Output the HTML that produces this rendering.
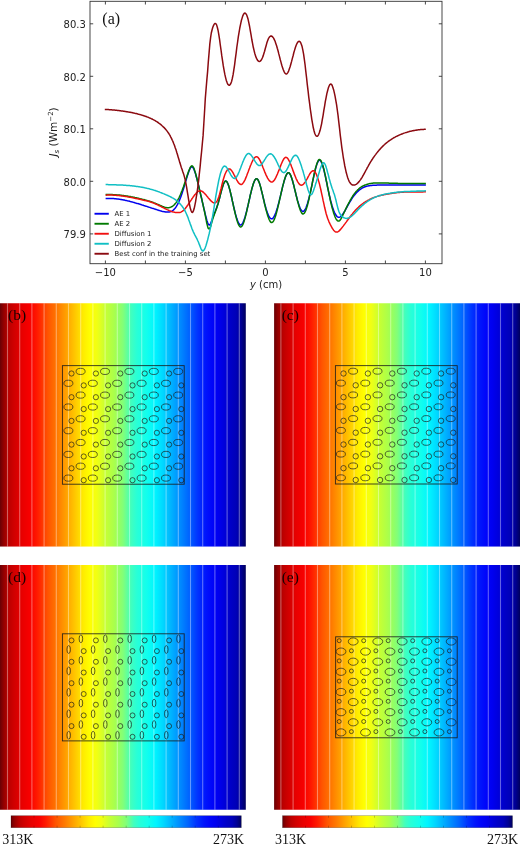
<!DOCTYPE html>
<html><head><meta charset="utf-8"><title>Figure</title>
<style>html,body{margin:0;padding:0;background:#fff}svg{display:block}</style>
</head><body>
<svg width="520" height="845" viewBox="0 0 520 845"><defs><linearGradient id="jet" x1="0" y1="0" x2="1" y2="0"><stop offset="0.0000" stop-color="rgb(105,0,5)"/><stop offset="0.0163" stop-color="rgb(150,0,0)"/><stop offset="0.0366" stop-color="rgb(188,0,0)"/><stop offset="0.0570" stop-color="rgb(208,0,0)"/><stop offset="0.0895" stop-color="rgb(232,0,0)"/><stop offset="0.1221" stop-color="rgb(248,0,0)"/><stop offset="0.1505" stop-color="rgb(255,25,0)"/><stop offset="0.1953" stop-color="rgb(255,85,0)"/><stop offset="0.2319" stop-color="rgb(255,120,0)"/><stop offset="0.2685" stop-color="rgb(255,160,0)"/><stop offset="0.3011" stop-color="rgb(255,195,0)"/><stop offset="0.3377" stop-color="rgb(255,235,0)"/><stop offset="0.3662" stop-color="rgb(255,255,0)"/><stop offset="0.3946" stop-color="rgb(240,255,20)"/><stop offset="0.4272" stop-color="rgb(200,255,50)"/><stop offset="0.4638" stop-color="rgb(170,255,75)"/><stop offset="0.5004" stop-color="rgb(130,255,120)"/><stop offset="0.5330" stop-color="rgb(65,255,190)"/><stop offset="0.5574" stop-color="rgb(40,255,215)"/><stop offset="0.5940" stop-color="rgb(20,255,235)"/><stop offset="0.6306" stop-color="rgb(0,245,255)"/><stop offset="0.6631" stop-color="rgb(0,215,255)"/><stop offset="0.6998" stop-color="rgb(0,175,255)"/><stop offset="0.7323" stop-color="rgb(0,140,255)"/><stop offset="0.7689" stop-color="rgb(0,100,255)"/><stop offset="0.8055" stop-color="rgb(0,50,255)"/><stop offset="0.8381" stop-color="rgb(0,20,252)"/><stop offset="0.8625" stop-color="rgb(0,5,250)"/><stop offset="0.8869" stop-color="rgb(0,0,240)"/><stop offset="0.9357" stop-color="rgb(0,0,200)"/><stop offset="0.9601" stop-color="rgb(0,0,185)"/><stop offset="0.9805" stop-color="rgb(0,0,150)"/><stop offset="0.9927" stop-color="rgb(0,0,115)"/><stop offset="1.0000" stop-color="rgb(0,0,90)"/></linearGradient></defs><rect width="520" height="845" fill="#fff"/><g stroke="#333" stroke-width="0.9" fill="none"><rect x="90.0" y="1.3" width="352.0" height="262.4"/><path d="M105.4,263.7 v-3.2 M105.4,1.3 v3.2"/><path d="M145.4,263.7 v-3.2 M145.4,1.3 v3.2"/><path d="M185.4,263.7 v-3.2 M185.4,1.3 v3.2"/><path d="M225.4,263.7 v-3.2 M225.4,1.3 v3.2"/><path d="M265.4,263.7 v-3.2 M265.4,1.3 v3.2"/><path d="M305.4,263.7 v-3.2 M305.4,1.3 v3.2"/><path d="M345.4,263.7 v-3.2 M345.4,1.3 v3.2"/><path d="M385.4,263.7 v-3.2 M385.4,1.3 v3.2"/><path d="M425.4,263.7 v-3.2 M425.4,1.3 v3.2"/><path d="M90.0,23.8 h3.2 M442.0,23.8 h-3.2"/><path d="M90.0,76.3 h3.2 M442.0,76.3 h-3.2"/><path d="M90.0,128.8 h3.2 M442.0,128.8 h-3.2"/><path d="M90.0,181.3 h3.2 M442.0,181.3 h-3.2"/><path d="M90.0,233.9 h3.2 M442.0,233.9 h-3.2"/></g><g font-family="DejaVu Sans, Liberation Sans, sans-serif" font-size="10" fill="#222"><text x="105.4" y="275.6" text-anchor="middle">−10</text><text x="185.4" y="275.6" text-anchor="middle">−5</text><text x="265.4" y="275.6" text-anchor="middle">0</text><text x="345.4" y="275.6" text-anchor="middle">5</text><text x="425.4" y="275.6" text-anchor="middle">10</text><text x="85.8" y="28.1" text-anchor="end">80.3</text><text x="85.8" y="80.6" text-anchor="end">80.2</text><text x="85.8" y="133.1" text-anchor="end">80.1</text><text x="85.8" y="185.6" text-anchor="end">80.0</text><text x="85.8" y="238.2" text-anchor="end">79.9</text><text x="266" y="287.6" text-anchor="middle"><tspan font-style="italic">y</tspan> (cm)</text><text transform="translate(57.1,131.9) rotate(-90)" text-anchor="middle" font-size="10.5"><tspan font-style="italic">J</tspan><tspan font-style="italic" font-size="7" dy="2">s</tspan><tspan dy="-2"> (Wm</tspan><tspan font-size="7" dy="-4">−2</tspan><tspan dy="4">)</tspan></text></g><g fill="none" stroke-width="1.5" stroke-linejoin="round" stroke-linecap="butt"><path stroke="#0000ee" d="M105.6,198.5 L106.3,198.5 L107.1,198.4 L107.8,198.4 L108.6,198.4 L109.3,198.4 L110.1,198.4 L110.8,198.4 L111.6,198.5 L112.3,198.5 L113.1,198.5 L113.8,198.6 L114.6,198.7 L115.3,198.7 L116.1,198.8 L116.8,198.9 L117.6,199.0 L118.3,199.1 L119.1,199.2 L119.8,199.3 L120.6,199.4 L121.3,199.5 L122.1,199.7 L122.8,199.8 L123.6,200.0 L124.3,200.1 L125.1,200.3 L125.8,200.4 L126.6,200.6 L127.3,200.8 L128.1,200.9 L128.8,201.1 L129.6,201.3 L130.3,201.5 L131.1,201.7 L131.8,201.9 L132.6,202.1 L133.3,202.3 L134.1,202.5 L134.8,202.7 L135.6,202.9 L136.3,203.2 L137.1,203.4 L137.8,203.6 L138.6,203.8 L139.3,204.1 L140.1,204.3 L140.8,204.5 L141.6,204.8 L142.3,205.0 L143.1,205.2 L143.8,205.5 L144.6,205.7 L145.3,206.0 L146.1,206.2 L146.8,206.4 L147.6,206.7 L148.3,206.9 L149.1,207.2 L149.8,207.4 L150.6,207.7 L151.3,207.9 L152.1,208.2 L152.8,208.4 L153.6,208.6 L154.3,208.9 L155.1,209.1 L155.8,209.4 L156.6,209.6 L157.3,209.9 L158.1,210.1 L158.8,210.4 L159.6,210.6 L160.3,210.8 L161.1,211.0 L161.8,211.2 L162.6,211.4 L163.3,211.6 L164.1,211.7 L164.8,211.8 L165.6,212.0 L166.3,212.0 L167.1,212.1 L167.8,212.1 L168.6,212.1 L169.3,212.0 L170.1,211.8 L170.8,211.5 L171.6,211.2 L172.3,210.8 L173.1,210.3 L173.8,209.6 L174.6,208.8 L175.3,208.0 L176.1,206.9 L176.8,205.7 L177.6,204.4 L178.3,202.9 L179.1,201.2 L179.8,199.4 L180.6,197.5 L181.3,195.4 L182.1,193.2 L182.8,190.9 L183.6,188.5 L184.3,186.0 L185.1,183.4 L185.8,180.9 L186.6,178.4 L187.3,176.0 L188.1,173.7 L188.8,171.5 L189.6,169.6 L190.3,168.0 L191.1,167.0 L191.8,166.6 L192.6,167.1 L193.3,168.1 L194.1,169.7 L194.8,171.7 L195.6,174.1 L196.3,176.7 L197.1,179.5 L197.8,182.5 L198.6,185.7 L199.3,188.8 L200.1,192.1 L200.8,195.3 L201.6,198.5 L202.3,201.8 L203.1,205.0 L203.8,208.2 L204.6,211.3 L205.3,214.4 L206.1,217.4 L206.8,220.2 L207.6,222.5 L208.3,224.2 L209.1,225.0 L209.8,224.7 L210.6,223.6 L211.3,221.8 L212.1,219.7 L212.8,217.4 L213.6,215.4 L214.3,213.5 L215.1,211.6 L215.8,209.8 L216.6,207.9 L217.3,205.8 L218.1,203.5 L218.8,200.8 L219.6,198.0 L220.3,195.1 L221.1,192.1 L221.8,189.3 L222.6,186.8 L223.3,184.5 L224.1,182.8 L224.8,181.5 L225.6,181.0 L226.3,181.2 L227.1,182.1 L227.8,183.6 L228.6,185.6 L229.3,188.1 L230.1,190.9 L230.8,194.0 L231.6,197.3 L232.3,200.7 L233.1,204.0 L233.8,207.3 L234.6,210.5 L235.3,213.4 L236.1,216.2 L236.8,218.6 L237.6,220.7 L238.3,222.5 L239.1,223.8 L239.8,224.7 L240.6,225.0 L241.3,224.8 L242.1,224.1 L242.8,222.8 L243.6,221.2 L244.3,219.2 L245.1,216.8 L245.8,214.2 L246.6,211.3 L247.3,208.2 L248.1,205.0 L248.8,201.8 L249.6,198.5 L250.3,195.2 L251.1,192.1 L251.8,189.1 L252.6,186.4 L253.3,184.0 L254.1,181.9 L254.8,180.3 L255.6,179.2 L256.4,178.7 L257.1,178.9 L257.9,179.7 L258.6,181.1 L259.4,183.0 L260.1,185.4 L260.9,188.1 L261.6,191.1 L262.4,194.2 L263.1,197.3 L263.9,200.5 L264.6,203.5 L265.4,206.3 L266.1,209.0 L266.9,211.3 L267.6,213.4 L268.4,215.2 L269.1,216.7 L269.9,217.8 L270.6,218.5 L271.4,218.8 L272.1,218.8 L272.9,218.3 L273.6,217.3 L274.4,216.0 L275.1,214.4 L275.9,212.5 L276.6,210.3 L277.4,207.8 L278.1,205.1 L278.9,202.3 L279.6,199.3 L280.4,196.2 L281.1,193.1 L281.9,190.0 L282.6,186.9 L283.4,183.9 L284.1,181.2 L284.9,178.7 L285.6,176.6 L286.4,174.9 L287.1,173.6 L287.9,172.8 L288.6,172.7 L289.4,173.2 L290.1,174.2 L290.9,175.9 L291.6,177.9 L292.4,180.3 L293.1,183.0 L293.9,185.9 L294.6,188.9 L295.4,192.0 L296.1,195.0 L296.9,197.9 L297.6,200.7 L298.4,203.2 L299.1,205.5 L299.9,207.5 L300.6,209.1 L301.4,210.3 L302.1,211.1 L302.9,211.5 L303.6,211.3 L304.4,210.7 L305.1,209.5 L305.9,208.0 L306.6,206.1 L307.4,203.8 L308.1,201.3 L308.9,198.4 L309.6,195.4 L310.4,192.2 L311.1,188.8 L311.9,185.3 L312.6,181.7 L313.4,178.2 L314.1,174.8 L314.9,171.5 L315.6,168.5 L316.4,165.9 L317.1,163.6 L317.9,161.9 L318.6,160.7 L319.4,160.2 L320.1,160.4 L320.9,161.3 L321.6,162.7 L322.4,164.7 L323.1,167.2 L323.9,170.0 L324.6,173.1 L325.4,176.5 L326.1,180.0 L326.9,183.6 L327.6,187.3 L328.4,190.8 L329.1,194.2 L329.9,197.5 L330.6,200.5 L331.4,203.3 L332.1,205.9 L332.9,208.2 L333.6,210.3 L334.4,212.2 L335.1,213.7 L335.9,215.0 L336.6,216.1 L337.4,216.8 L338.1,217.2 L338.9,217.3 L339.6,217.2 L340.4,216.8 L341.1,216.2 L341.9,215.4 L342.6,214.4 L343.4,213.3 L344.1,212.2 L344.9,210.9 L345.6,209.6 L346.4,208.2 L347.1,206.9 L347.9,205.5 L348.6,204.1 L349.4,202.8 L350.1,201.5 L350.9,200.3 L351.6,199.1 L352.4,197.9 L353.1,196.9 L353.9,195.8 L354.6,194.9 L355.4,194.0 L356.1,193.1 L356.9,192.3 L357.6,191.6 L358.4,190.9 L359.1,190.2 L359.9,189.6 L360.6,189.1 L361.4,188.6 L362.1,188.1 L362.9,187.7 L363.6,187.4 L364.4,187.0 L365.1,186.7 L365.9,186.5 L366.6,186.3 L367.4,186.1 L368.1,185.9 L368.9,185.8 L369.6,185.7 L370.4,185.6 L371.1,185.5 L371.9,185.4 L372.6,185.3 L373.4,185.3 L374.1,185.2 L374.9,185.2 L375.6,185.2 L376.4,185.2 L377.1,185.1 L377.9,185.1 L378.6,185.1 L379.4,185.1 L380.1,185.1 L380.9,185.1 L381.6,185.1 L382.4,185.1 L383.1,185.1 L383.9,185.1 L384.6,185.1 L385.4,185.1 L386.1,185.1 L386.9,185.1 L387.6,185.1 L388.4,185.1 L389.1,185.1 L389.9,185.1 L390.6,185.1 L391.4,185.1 L392.1,185.1 L392.9,185.1 L393.6,185.1 L394.4,185.1 L395.1,185.1 L395.9,185.1 L396.6,185.1 L397.4,185.1 L398.1,185.1 L398.9,185.1 L399.6,185.1 L400.4,185.1 L401.1,185.1 L401.9,185.1 L402.6,185.1 L403.4,185.1 L404.1,185.1 L404.9,185.1 L405.6,185.1 L406.4,185.1 L407.1,185.1 L407.9,185.1 L408.6,185.1 L409.4,185.1 L410.1,185.1 L410.9,185.1 L411.6,185.1 L412.4,185.1 L413.1,185.1 L413.9,185.1 L414.6,185.1 L415.4,185.1 L416.1,185.1 L416.9,185.1 L417.6,185.1 L418.4,185.1 L419.1,185.1 L419.9,185.1 L420.6,185.1 L421.4,185.1 L422.1,185.1 L422.9,185.1 L423.6,185.1 L424.4,185.1 L425.1,185.1 L425.9,185.1"/><path stroke="#007a00" d="M105.6,194.6 L106.3,194.6 L107.1,194.6 L107.8,194.6 L108.6,194.6 L109.3,194.6 L110.1,194.6 L110.8,194.6 L111.6,194.6 L112.3,194.6 L113.1,194.7 L113.8,194.7 L114.6,194.7 L115.3,194.8 L116.1,194.8 L116.8,194.9 L117.6,194.9 L118.3,195.0 L119.1,195.1 L119.8,195.1 L120.6,195.2 L121.3,195.3 L122.1,195.4 L122.8,195.5 L123.6,195.6 L124.3,195.7 L125.1,195.8 L125.8,195.9 L126.6,196.0 L127.3,196.1 L128.1,196.2 L128.8,196.4 L129.6,196.5 L130.3,196.6 L131.1,196.8 L131.8,196.9 L132.6,197.0 L133.3,197.2 L134.1,197.3 L134.8,197.5 L135.6,197.7 L136.3,197.8 L137.1,198.0 L137.8,198.2 L138.6,198.3 L139.3,198.5 L140.1,198.7 L140.8,198.9 L141.6,199.0 L142.3,199.2 L143.1,199.4 L143.8,199.6 L144.6,199.8 L145.3,200.0 L146.1,200.2 L146.8,200.4 L147.6,200.7 L148.3,200.9 L149.1,201.1 L149.8,201.3 L150.6,201.6 L151.3,201.8 L152.1,202.1 L152.8,202.3 L153.6,202.6 L154.3,202.9 L155.1,203.2 L155.8,203.5 L156.6,203.8 L157.3,204.1 L158.1,204.4 L158.8,204.8 L159.6,205.1 L160.3,205.5 L161.1,205.8 L161.8,206.1 L162.6,206.5 L163.3,206.7 L164.1,207.0 L164.8,207.2 L165.6,207.4 L166.3,207.6 L167.1,207.7 L167.8,207.7 L168.6,207.7 L169.3,207.6 L170.1,207.4 L170.8,207.1 L171.6,206.8 L172.3,206.3 L173.1,205.8 L173.8,205.2 L174.6,204.4 L175.3,203.6 L176.1,202.6 L176.8,201.5 L177.6,200.3 L178.3,199.0 L179.1,197.5 L179.8,196.0 L180.6,194.3 L181.3,192.4 L182.1,190.5 L182.8,188.5 L183.6,186.4 L184.3,184.2 L185.1,181.9 L185.8,179.6 L186.6,177.3 L187.3,175.0 L188.1,172.8 L188.8,170.8 L189.6,169.0 L190.3,167.4 L191.1,166.3 L191.8,165.8 L192.6,166.1 L193.3,167.1 L194.1,168.7 L194.8,170.9 L195.6,173.4 L196.3,176.2 L197.1,179.2 L197.8,182.4 L198.6,185.6 L199.3,188.8 L200.1,192.0 L200.8,195.2 L201.6,198.4 L202.3,201.6 L203.1,205.0 L203.8,208.4 L204.6,212.0 L205.3,215.7 L206.1,219.6 L206.8,223.3 L207.6,226.4 L208.3,228.4 L209.1,229.0 L209.8,228.2 L210.6,226.5 L211.3,224.1 L212.1,221.4 L212.8,218.8 L213.6,216.5 L214.3,214.4 L215.1,212.4 L215.8,210.4 L216.6,208.3 L217.3,206.1 L218.1,203.7 L218.8,200.9 L219.6,198.1 L220.3,195.1 L221.1,192.1 L221.8,189.3 L222.6,186.8 L223.3,184.5 L224.1,182.8 L224.8,181.6 L225.6,181.0 L226.3,181.2 L227.1,182.1 L227.8,183.5 L228.6,185.5 L229.3,188.0 L230.1,190.8 L230.8,193.9 L231.6,197.2 L232.3,200.7 L233.1,204.1 L233.8,207.6 L234.6,211.0 L235.3,214.1 L236.1,217.1 L236.8,219.8 L237.6,222.2 L238.3,224.1 L239.1,225.6 L239.8,226.6 L240.6,227.0 L241.3,226.8 L242.1,226.0 L242.8,224.6 L243.6,222.8 L244.3,220.5 L245.1,217.9 L245.8,215.0 L246.6,211.9 L247.3,208.6 L248.1,205.2 L248.8,201.8 L249.6,198.4 L250.3,195.0 L251.1,191.9 L251.8,188.9 L252.6,186.2 L253.3,183.8 L254.1,181.8 L254.8,180.2 L255.6,179.2 L256.4,178.7 L257.1,178.9 L257.9,179.7 L258.6,181.1 L259.4,183.0 L260.1,185.3 L260.9,188.0 L261.6,191.0 L262.4,194.1 L263.1,197.4 L263.9,200.7 L264.6,204.0 L265.4,207.2 L266.1,210.1 L266.9,212.9 L267.6,215.4 L268.4,217.6 L269.1,219.5 L269.9,221.0 L270.6,222.0 L271.4,222.5 L272.1,222.5 L272.9,221.9 L273.6,220.8 L274.4,219.2 L275.1,217.3 L275.9,214.9 L276.6,212.3 L277.4,209.4 L278.1,206.3 L278.9,203.1 L279.6,199.8 L280.4,196.4 L281.1,193.1 L281.9,189.8 L282.6,186.6 L283.4,183.7 L284.1,180.9 L284.9,178.5 L285.6,176.4 L286.4,174.7 L287.1,173.5 L287.9,172.8 L288.6,172.7 L289.4,173.2 L290.1,174.2 L290.9,175.8 L291.6,177.8 L292.4,180.2 L293.1,182.9 L293.9,185.8 L294.6,188.8 L295.4,192.0 L296.1,195.2 L296.9,198.3 L297.6,201.3 L298.4,204.1 L299.1,206.7 L299.9,209.0 L300.6,211.0 L301.4,212.5 L302.1,213.5 L302.9,214.0 L303.6,213.8 L304.4,213.1 L305.1,211.9 L305.9,210.2 L306.6,208.0 L307.4,205.5 L308.1,202.6 L308.9,199.5 L309.6,196.2 L310.4,192.6 L311.1,189.0 L311.9,185.3 L312.6,181.5 L313.4,177.8 L314.1,174.3 L314.9,171.0 L315.6,167.9 L316.4,165.2 L317.1,163.0 L317.9,161.2 L318.6,160.0 L319.4,159.5 L320.1,159.7 L320.9,160.5 L321.6,162.0 L322.4,164.0 L323.1,166.4 L323.9,169.2 L324.6,172.4 L325.4,175.8 L326.1,179.5 L326.9,183.2 L327.6,187.0 L328.4,190.8 L329.1,194.5 L329.9,198.1 L330.6,201.5 L331.4,204.7 L332.1,207.7 L332.9,210.4 L333.6,212.9 L334.4,215.1 L335.1,217.0 L335.9,218.6 L336.6,219.8 L337.4,220.6 L338.1,221.1 L338.9,221.1 L339.6,220.6 L340.4,219.8 L341.1,218.6 L341.9,217.2 L342.6,215.7 L343.4,214.0 L344.1,212.4 L344.9,210.8 L345.6,209.2 L346.4,207.7 L347.1,206.1 L347.9,204.7 L348.6,203.2 L349.4,201.8 L350.1,200.5 L350.9,199.2 L351.6,197.9 L352.4,196.7 L353.1,195.5 L353.9,194.4 L354.6,193.4 L355.4,192.4 L356.1,191.5 L356.9,190.7 L357.6,189.9 L358.4,189.2 L359.1,188.5 L359.9,187.9 L360.6,187.4 L361.4,186.9 L362.1,186.4 L362.9,186.0 L363.6,185.6 L364.4,185.3 L365.1,185.0 L365.9,184.7 L366.6,184.4 L367.4,184.2 L368.1,184.0 L368.9,183.8 L369.6,183.6 L370.4,183.5 L371.1,183.4 L371.9,183.3 L372.6,183.2 L373.4,183.1 L374.1,183.1 L374.9,183.0 L375.6,183.0 L376.4,183.0 L377.1,183.0 L377.9,183.0 L378.6,183.0 L379.4,183.0 L380.1,183.0 L380.9,183.0 L381.6,183.0 L382.4,183.0 L383.1,183.0 L383.9,183.0 L384.6,183.1 L385.4,183.1 L386.1,183.1 L386.9,183.1 L387.6,183.1 L388.4,183.1 L389.1,183.2 L389.9,183.2 L390.6,183.2 L391.4,183.2 L392.1,183.2 L392.9,183.2 L393.6,183.3 L394.4,183.3 L395.1,183.3 L395.9,183.3 L396.6,183.3 L397.4,183.3 L398.1,183.4 L398.9,183.4 L399.6,183.4 L400.4,183.4 L401.1,183.4 L401.9,183.4 L402.6,183.5 L403.4,183.5 L404.1,183.5 L404.9,183.5 L405.6,183.5 L406.4,183.5 L407.1,183.5 L407.9,183.5 L408.6,183.6 L409.4,183.6 L410.1,183.6 L410.9,183.6 L411.6,183.6 L412.4,183.6 L413.1,183.6 L413.9,183.6 L414.6,183.6 L415.4,183.6 L416.1,183.6 L416.9,183.6 L417.6,183.6 L418.4,183.6 L419.1,183.6 L419.9,183.6 L420.6,183.6 L421.4,183.6 L422.1,183.6 L422.9,183.6 L423.6,183.6 L424.4,183.6 L425.1,183.6 L425.9,183.6"/><path stroke="#f01010" d="M105.6,195.2 L106.3,195.2 L107.1,195.1 L107.8,195.1 L108.6,195.1 L109.3,195.1 L110.1,195.1 L110.8,195.1 L111.6,195.1 L112.3,195.1 L113.1,195.2 L113.8,195.2 L114.6,195.2 L115.3,195.3 L116.1,195.3 L116.8,195.4 L117.6,195.5 L118.3,195.5 L119.1,195.6 L119.8,195.7 L120.6,195.8 L121.3,195.9 L122.1,196.0 L122.8,196.1 L123.6,196.2 L124.3,196.3 L125.1,196.4 L125.8,196.5 L126.6,196.6 L127.3,196.8 L128.1,196.9 L128.8,197.0 L129.6,197.2 L130.3,197.3 L131.1,197.4 L131.8,197.6 L132.6,197.7 L133.3,197.9 L134.1,198.0 L134.8,198.2 L135.6,198.4 L136.3,198.5 L137.1,198.7 L137.8,198.8 L138.6,199.0 L139.3,199.2 L140.1,199.3 L140.8,199.5 L141.6,199.7 L142.3,199.9 L143.1,200.0 L143.8,200.2 L144.6,200.4 L145.3,200.5 L146.1,200.7 L146.8,200.9 L147.6,201.1 L148.3,201.3 L149.1,201.5 L149.8,201.7 L150.6,202.0 L151.3,202.2 L152.1,202.5 L152.8,202.8 L153.6,203.1 L154.3,203.4 L155.1,203.7 L155.8,204.0 L156.6,204.4 L157.3,204.7 L158.1,205.1 L158.8,205.5 L159.6,205.8 L160.3,206.2 L161.1,206.6 L161.8,207.0 L162.6,207.4 L163.3,207.7 L164.1,208.1 L164.8,208.5 L165.6,208.9 L166.3,209.2 L167.1,209.6 L167.8,209.9 L168.6,210.3 L169.3,210.6 L170.1,210.9 L170.8,211.2 L171.6,211.4 L172.3,211.7 L173.1,211.9 L173.8,212.1 L174.6,212.3 L175.3,212.4 L176.1,212.5 L176.8,212.6 L177.6,212.6 L178.3,212.6 L179.1,212.5 L179.8,212.4 L180.6,212.2 L181.3,211.9 L182.1,211.4 L182.8,210.9 L183.6,210.3 L184.3,209.6 L185.1,208.7 L185.8,207.8 L186.6,206.8 L187.3,205.8 L188.1,204.7 L188.8,203.5 L189.6,202.4 L190.3,201.2 L191.1,200.1 L191.8,199.0 L192.6,197.9 L193.3,196.8 L194.1,195.8 L194.8,194.8 L195.6,193.9 L196.3,193.0 L197.1,192.3 L197.8,191.7 L198.6,191.2 L199.3,190.9 L200.1,190.8 L200.8,190.9 L201.6,191.1 L202.3,191.5 L203.1,192.0 L203.8,192.7 L204.6,193.4 L205.3,194.2 L206.1,195.1 L206.8,196.0 L207.6,196.9 L208.3,197.9 L209.1,198.8 L209.8,199.6 L210.6,200.4 L211.3,201.2 L212.1,201.8 L212.8,202.4 L213.6,202.8 L214.3,203.0 L215.1,202.9 L215.8,202.5 L216.6,201.8 L217.3,200.6 L218.1,198.9 L218.8,196.8 L219.6,194.2 L220.3,191.4 L221.1,188.4 L221.8,185.3 L222.6,182.3 L223.3,179.5 L224.1,177.0 L224.8,174.8 L225.6,173.0 L226.3,171.5 L227.1,170.3 L227.8,169.5 L228.6,169.0 L229.3,168.9 L230.1,169.1 L230.8,169.7 L231.6,170.6 L232.3,171.6 L233.1,172.9 L233.8,174.3 L234.6,175.7 L235.3,177.2 L236.1,178.7 L236.8,180.1 L237.6,181.3 L238.3,182.5 L239.1,183.4 L239.8,184.0 L240.6,184.4 L241.3,184.5 L242.1,184.1 L242.8,183.4 L243.6,182.4 L244.3,181.1 L245.1,179.6 L245.8,177.9 L246.6,176.0 L247.3,174.1 L248.1,172.0 L248.8,170.0 L249.6,168.0 L250.3,166.0 L251.1,164.2 L251.8,162.5 L252.6,160.9 L253.3,159.5 L254.1,158.4 L254.8,157.5 L255.6,156.9 L256.4,156.7 L257.1,156.8 L257.9,157.3 L258.6,158.2 L259.4,159.3 L260.1,160.7 L260.9,162.3 L261.6,164.1 L262.4,165.9 L263.1,167.8 L263.9,169.7 L264.6,171.6 L265.4,173.4 L266.1,175.1 L266.9,176.7 L267.6,178.1 L268.4,179.4 L269.1,180.4 L269.9,181.2 L270.6,181.7 L271.4,182.0 L272.1,182.0 L272.9,181.6 L273.6,180.9 L274.4,180.0 L275.1,178.8 L275.9,177.4 L276.6,175.8 L277.4,174.1 L278.1,172.3 L278.9,170.4 L279.6,168.4 L280.4,166.5 L281.1,164.5 L281.9,162.7 L282.6,161.1 L283.4,159.7 L284.1,158.5 L284.9,157.7 L285.6,157.3 L286.4,157.4 L287.1,157.8 L287.9,158.7 L288.6,159.9 L289.4,161.3 L290.1,163.0 L290.9,164.8 L291.6,166.8 L292.4,168.8 L293.1,170.9 L293.9,172.9 L294.6,174.9 L295.4,176.8 L296.1,178.6 L296.9,180.2 L297.6,181.6 L298.4,182.8 L299.1,183.9 L299.9,184.6 L300.6,185.1 L301.4,185.2 L302.1,185.1 L302.9,184.7 L303.6,184.0 L304.4,183.1 L305.1,182.1 L305.9,180.9 L306.6,179.6 L307.4,178.3 L308.1,176.9 L308.9,175.5 L309.6,174.2 L310.4,173.0 L311.1,172.0 L311.9,171.3 L312.6,170.8 L313.4,170.7 L314.1,171.0 L314.9,171.8 L315.6,172.9 L316.4,174.4 L317.1,176.3 L317.9,178.5 L318.6,180.9 L319.4,183.7 L320.1,186.7 L320.9,190.0 L321.6,193.4 L322.4,196.9 L323.1,200.4 L323.9,203.9 L324.6,207.3 L325.4,210.5 L326.1,213.4 L326.9,215.9 L327.6,218.2 L328.4,220.3 L329.1,222.1 L329.9,223.7 L330.6,225.2 L331.4,226.6 L332.1,228.0 L332.9,229.1 L333.6,230.2 L334.4,231.0 L335.1,231.6 L335.9,232.0 L336.6,232.1 L337.4,232.0 L338.1,231.6 L338.9,231.1 L339.6,230.4 L340.4,229.6 L341.1,228.7 L341.9,227.8 L342.6,226.9 L343.4,225.9 L344.1,224.9 L344.9,223.9 L345.6,222.9 L346.4,221.9 L347.1,220.8 L347.9,219.8 L348.6,218.8 L349.4,217.8 L350.1,216.8 L350.9,215.8 L351.6,214.8 L352.4,213.9 L353.1,212.9 L353.9,212.0 L354.6,211.2 L355.4,210.3 L356.1,209.5 L356.9,208.7 L357.6,208.0 L358.4,207.3 L359.1,206.6 L359.9,205.9 L360.6,205.3 L361.4,204.7 L362.1,204.1 L362.9,203.5 L363.6,203.0 L364.4,202.5 L365.1,202.0 L365.9,201.5 L366.6,201.1 L367.4,200.6 L368.1,200.2 L368.9,199.8 L369.6,199.4 L370.4,199.0 L371.1,198.7 L371.9,198.3 L372.6,198.0 L373.4,197.7 L374.1,197.4 L374.9,197.1 L375.6,196.9 L376.4,196.6 L377.1,196.4 L377.9,196.1 L378.6,195.9 L379.4,195.7 L380.1,195.5 L380.9,195.4 L381.6,195.2 L382.4,195.0 L383.1,194.9 L383.9,194.7 L384.6,194.6 L385.4,194.4 L386.1,194.3 L386.9,194.2 L387.6,194.1 L388.4,193.9 L389.1,193.8 L389.9,193.7 L390.6,193.6 L391.4,193.4 L392.1,193.3 L392.9,193.2 L393.6,193.1 L394.4,193.0 L395.1,192.9 L395.9,192.8 L396.6,192.7 L397.4,192.6 L398.1,192.5 L398.9,192.5 L399.6,192.4 L400.4,192.3 L401.1,192.3 L401.9,192.2 L402.6,192.2 L403.4,192.2 L404.1,192.1 L404.9,192.1 L405.6,192.1 L406.4,192.1 L407.1,192.0 L407.9,192.0 L408.6,192.0 L409.4,192.0 L410.1,192.0 L410.9,192.0 L411.6,192.0 L412.4,192.0 L413.1,192.0 L413.9,192.0 L414.6,192.0 L415.4,192.0 L416.1,192.0 L416.9,192.0 L417.6,192.0 L418.4,192.0 L419.1,191.9 L419.9,191.9 L420.6,191.9 L421.4,191.9 L422.1,191.9 L422.9,191.9 L423.6,191.8 L424.4,191.8 L425.1,191.8 L425.9,191.7"/><path stroke="#10bfc4" d="M105.6,184.6 L106.3,184.6 L107.1,184.6 L107.8,184.6 L108.6,184.7 L109.3,184.7 L110.1,184.7 L110.8,184.7 L111.6,184.7 L112.3,184.7 L113.1,184.8 L113.8,184.8 L114.6,184.8 L115.3,184.8 L116.1,184.8 L116.8,184.9 L117.6,184.9 L118.3,184.9 L119.1,184.9 L119.8,185.0 L120.6,185.0 L121.3,185.0 L122.1,185.1 L122.8,185.1 L123.6,185.2 L124.3,185.2 L125.1,185.3 L125.8,185.3 L126.6,185.4 L127.3,185.4 L128.1,185.5 L128.8,185.5 L129.6,185.6 L130.3,185.7 L131.1,185.7 L131.8,185.8 L132.6,185.9 L133.3,186.0 L134.1,186.1 L134.8,186.2 L135.6,186.3 L136.3,186.4 L137.1,186.5 L137.8,186.6 L138.6,186.7 L139.3,186.8 L140.1,186.9 L140.8,187.1 L141.6,187.2 L142.3,187.3 L143.1,187.5 L143.8,187.6 L144.6,187.8 L145.3,187.9 L146.1,188.1 L146.8,188.3 L147.6,188.4 L148.3,188.6 L149.1,188.8 L149.8,189.0 L150.6,189.2 L151.3,189.4 L152.1,189.6 L152.8,189.8 L153.6,190.1 L154.3,190.3 L155.1,190.5 L155.8,190.8 L156.6,191.0 L157.3,191.3 L158.1,191.6 L158.8,191.8 L159.6,192.1 L160.3,192.4 L161.1,192.7 L161.8,193.0 L162.6,193.3 L163.3,193.6 L164.1,193.9 L164.8,194.2 L165.6,194.5 L166.3,194.9 L167.1,195.2 L167.8,195.5 L168.6,195.9 L169.3,196.2 L170.1,196.6 L170.8,197.0 L171.6,197.3 L172.3,197.8 L173.1,198.2 L173.8,198.6 L174.6,199.1 L175.3,199.6 L176.1,200.2 L176.8,200.8 L177.6,201.4 L178.3,202.1 L179.1,202.8 L179.8,203.6 L180.6,204.4 L181.3,205.3 L182.1,206.2 L182.8,207.3 L183.6,208.4 L184.3,209.7 L185.1,211.0 L185.8,212.5 L186.6,214.2 L187.3,215.9 L188.1,217.8 L188.8,219.9 L189.6,222.0 L190.3,224.1 L191.1,226.1 L191.8,228.2 L192.6,230.1 L193.3,231.8 L194.1,233.4 L194.8,234.8 L195.6,236.3 L196.3,237.7 L197.1,239.2 L197.8,240.8 L198.6,242.5 L199.3,244.4 L200.1,246.4 L200.8,248.3 L201.6,249.8 L202.3,250.8 L203.1,251.0 L203.8,250.4 L204.6,249.2 L205.3,247.4 L206.1,245.2 L206.8,242.7 L207.6,240.0 L208.3,237.1 L209.1,234.0 L209.8,230.8 L210.6,227.3 L211.3,223.5 L212.1,219.4 L212.8,215.1 L213.6,210.5 L214.3,205.8 L215.1,201.1 L215.8,196.4 L216.6,192.0 L217.3,187.8 L218.1,183.8 L218.8,180.2 L219.6,176.9 L220.3,174.0 L221.1,171.5 L221.8,169.5 L222.6,167.9 L223.3,166.8 L224.1,166.2 L224.8,166.1 L225.6,166.4 L226.3,167.1 L227.1,168.1 L227.8,169.3 L228.6,170.6 L229.3,172.0 L230.1,173.4 L230.8,174.8 L231.6,176.0 L232.3,177.0 L233.1,177.8 L233.8,178.3 L234.6,178.5 L235.3,178.2 L236.1,177.5 L236.8,176.5 L237.6,175.2 L238.3,173.6 L239.1,171.8 L239.8,169.9 L240.6,168.0 L241.3,166.0 L242.1,164.0 L242.8,162.1 L243.6,160.3 L244.3,158.6 L245.1,157.1 L245.8,155.8 L246.6,154.8 L247.3,154.0 L248.1,153.6 L248.8,153.5 L249.6,153.8 L250.3,154.3 L251.1,155.1 L251.8,156.1 L252.6,157.2 L253.3,158.4 L254.1,159.7 L254.8,160.9 L255.6,162.1 L256.4,163.2 L257.1,164.2 L257.9,164.9 L258.6,165.4 L259.4,165.6 L260.1,165.5 L260.9,165.1 L261.6,164.3 L262.4,163.4 L263.1,162.2 L263.9,161.0 L264.6,159.8 L265.4,158.6 L266.1,157.4 L266.9,156.4 L267.6,155.5 L268.4,154.7 L269.1,154.2 L269.9,153.9 L270.6,153.8 L271.4,154.0 L272.1,154.5 L272.9,155.2 L273.6,156.2 L274.4,157.3 L275.1,158.5 L275.9,159.9 L276.6,161.4 L277.4,163.0 L278.1,164.6 L278.9,166.2 L279.6,167.8 L280.4,169.2 L281.1,170.5 L281.9,171.5 L282.6,172.2 L283.4,172.6 L284.1,172.7 L284.9,172.2 L285.6,171.5 L286.4,170.5 L287.1,169.2 L287.9,167.7 L288.6,166.1 L289.4,164.4 L290.1,162.8 L290.9,161.2 L291.6,159.6 L292.4,158.2 L293.1,157.0 L293.9,156.1 L294.6,155.5 L295.4,155.2 L296.1,155.3 L296.9,155.9 L297.6,156.8 L298.4,158.2 L299.1,159.8 L299.9,161.7 L300.6,163.8 L301.4,166.1 L302.1,168.4 L302.9,170.8 L303.6,173.4 L304.4,176.1 L305.1,178.9 L305.9,181.8 L306.6,184.7 L307.4,187.5 L308.1,190.0 L308.9,192.1 L309.6,193.7 L310.4,194.6 L311.1,194.8 L311.9,194.1 L312.6,192.8 L313.4,191.0 L314.1,188.8 L314.9,186.5 L315.6,184.1 L316.4,181.7 L317.1,179.2 L317.9,176.8 L318.6,174.3 L319.4,171.7 L320.1,169.3 L320.9,167.1 L321.6,165.2 L322.4,163.7 L323.1,162.9 L323.9,162.8 L324.6,163.5 L325.4,165.0 L326.1,167.1 L326.9,169.7 L327.6,172.5 L328.4,175.3 L329.1,178.2 L329.9,180.9 L330.6,183.6 L331.4,186.0 L332.1,188.3 L332.9,190.3 L333.6,192.4 L334.4,194.5 L335.1,197.1 L335.9,200.0 L336.6,203.1 L337.4,206.2 L338.1,209.1 L338.9,211.4 L339.6,213.2 L340.4,214.5 L341.1,215.6 L341.9,216.3 L342.6,217.0 L343.4,217.5 L344.1,217.8 L344.9,218.1 L345.6,218.3 L346.4,218.4 L347.1,218.3 L347.9,218.2 L348.6,217.9 L349.4,217.6 L350.1,217.2 L350.9,216.7 L351.6,216.1 L352.4,215.5 L353.1,214.8 L353.9,214.1 L354.6,213.3 L355.4,212.6 L356.1,211.8 L356.9,210.9 L357.6,210.1 L358.4,209.3 L359.1,208.6 L359.9,207.8 L360.6,207.1 L361.4,206.4 L362.1,205.7 L362.9,205.1 L363.6,204.4 L364.4,203.8 L365.1,203.2 L365.9,202.6 L366.6,202.1 L367.4,201.5 L368.1,201.0 L368.9,200.5 L369.6,200.1 L370.4,199.6 L371.1,199.2 L371.9,198.8 L372.6,198.4 L373.4,198.0 L374.1,197.6 L374.9,197.3 L375.6,197.0 L376.4,196.7 L377.1,196.4 L377.9,196.1 L378.6,195.8 L379.4,195.6 L380.1,195.4 L380.9,195.2 L381.6,195.0 L382.4,194.8 L383.1,194.6 L383.9,194.4 L384.6,194.2 L385.4,194.1 L386.1,193.9 L386.9,193.8 L387.6,193.7 L388.4,193.5 L389.1,193.4 L389.9,193.3 L390.6,193.1 L391.4,193.0 L392.1,192.9 L392.9,192.8 L393.6,192.7 L394.4,192.6 L395.1,192.5 L395.9,192.4 L396.6,192.3 L397.4,192.2 L398.1,192.1 L398.9,192.1 L399.6,192.0 L400.4,191.9 L401.1,191.9 L401.9,191.8 L402.6,191.7 L403.4,191.7 L404.1,191.6 L404.9,191.6 L405.6,191.6 L406.4,191.5 L407.1,191.5 L407.9,191.4 L408.6,191.4 L409.4,191.4 L410.1,191.4 L410.9,191.3 L411.6,191.3 L412.4,191.3 L413.1,191.3 L413.9,191.2 L414.6,191.2 L415.4,191.2 L416.1,191.2 L416.9,191.1 L417.6,191.1 L418.4,191.1 L419.1,191.1 L419.9,191.1 L420.6,191.0 L421.4,191.0 L422.1,191.0 L422.9,190.9 L423.6,190.9 L424.4,190.9 L425.1,190.8 L425.9,190.8"/><path stroke="#8b0a10" d="M104.8,109.4 L105.5,109.4 L106.3,109.5 L107.0,109.5 L107.8,109.6 L108.5,109.6 L109.3,109.7 L110.0,109.7 L110.8,109.8 L111.5,109.8 L112.3,109.9 L113.0,110.0 L113.8,110.0 L114.5,110.1 L115.3,110.2 L116.0,110.2 L116.8,110.3 L117.5,110.4 L118.3,110.5 L119.0,110.6 L119.8,110.7 L120.5,110.8 L121.3,110.9 L122.0,111.0 L122.8,111.1 L123.5,111.2 L124.3,111.3 L125.0,111.4 L125.8,111.5 L126.5,111.7 L127.3,111.8 L128.1,111.9 L128.8,112.1 L129.6,112.2 L130.3,112.3 L131.1,112.5 L131.8,112.6 L132.6,112.8 L133.3,113.0 L134.1,113.1 L134.8,113.3 L135.6,113.5 L136.3,113.6 L137.1,113.8 L137.8,114.0 L138.6,114.2 L139.3,114.4 L140.1,114.6 L140.8,114.8 L141.6,115.0 L142.3,115.3 L143.1,115.5 L143.8,115.7 L144.6,116.0 L145.3,116.2 L146.1,116.5 L146.8,116.8 L147.6,117.1 L148.3,117.3 L149.1,117.7 L149.8,118.0 L150.6,118.3 L151.3,118.7 L152.1,119.0 L152.8,119.4 L153.6,119.8 L154.3,120.2 L155.1,120.6 L155.8,121.1 L156.6,121.5 L157.3,122.0 L158.1,122.5 L158.8,123.1 L159.6,123.6 L160.3,124.2 L161.1,124.8 L161.8,125.5 L162.6,126.2 L163.3,126.9 L164.1,127.6 L164.8,128.4 L165.6,129.2 L166.3,130.1 L167.1,131.1 L167.8,132.1 L168.6,133.2 L169.3,134.4 L170.1,135.7 L170.8,137.1 L171.6,138.6 L172.3,140.2 L173.1,141.9 L173.8,143.8 L174.6,145.8 L175.3,147.9 L176.1,150.1 L176.8,152.5 L177.6,155.0 L178.3,157.6 L179.1,160.1 L179.8,162.6 L180.6,165.1 L181.3,167.4 L182.1,169.6 L182.8,171.7 L183.6,173.9 L184.3,176.4 L185.1,179.4 L185.8,183.0 L186.6,187.2 L187.3,191.7 L188.1,196.3 L188.8,200.8 L189.6,204.8 L190.3,208.3 L191.1,210.8 L191.8,212.3 L192.6,212.4 L193.3,211.2 L194.1,208.8 L194.8,205.6 L195.6,201.6 L196.3,197.2 L197.1,192.3 L197.8,187.0 L198.6,181.0 L199.3,174.2 L200.1,166.8 L200.8,159.1 L201.6,151.5 L202.3,144.0 L203.1,135.4 L203.8,124.0 L204.6,110.8 L205.3,98.5 L206.1,88.8 L206.8,80.4 L207.6,71.6 L208.3,62.0 L209.1,52.6 L209.8,44.2 L210.6,37.7 L211.3,33.0 L212.1,29.7 L212.8,27.3 L213.6,25.4 L214.3,24.0 L215.1,23.4 L215.8,23.7 L216.6,24.9 L217.3,27.2 L218.1,30.5 L218.8,34.7 L219.6,39.6 L220.3,45.0 L221.1,50.5 L221.8,55.9 L222.6,61.1 L223.3,65.9 L224.1,70.3 L224.8,74.2 L225.6,77.6 L226.3,80.4 L227.1,82.6 L227.8,84.2 L228.6,85.1 L229.3,85.3 L230.1,84.7 L230.8,83.5 L231.6,81.4 L232.3,78.5 L233.1,74.7 L233.8,70.1 L234.6,64.8 L235.3,59.1 L236.1,53.3 L236.8,47.5 L237.6,42.0 L238.3,36.9 L239.1,32.2 L239.8,28.0 L240.6,24.2 L241.3,20.8 L242.1,18.1 L242.8,15.8 L243.6,14.2 L244.3,13.3 L245.1,13.1 L245.8,13.6 L246.6,14.8 L247.3,16.7 L248.1,19.3 L248.8,22.6 L249.6,26.5 L250.3,30.7 L251.1,35.2 L251.8,39.5 L252.6,43.6 L253.3,47.3 L254.1,50.6 L254.8,53.5 L255.6,55.9 L256.3,57.9 L257.1,59.5 L257.8,60.6 L258.6,61.3 L259.3,61.5 L260.1,61.3 L260.8,60.6 L261.6,59.5 L262.3,58.0 L263.1,56.1 L263.8,53.8 L264.6,51.2 L265.3,48.5 L266.1,45.7 L266.8,43.1 L267.6,40.8 L268.3,38.9 L269.1,37.5 L269.8,36.6 L270.6,36.1 L271.3,36.0 L272.1,36.4 L272.8,37.1 L273.6,38.1 L274.3,39.6 L275.1,41.3 L275.8,43.4 L276.6,45.7 L277.3,48.3 L278.1,51.0 L278.8,53.9 L279.6,56.9 L280.3,59.8 L281.1,62.6 L281.8,65.3 L282.6,67.7 L283.3,69.8 L284.1,71.6 L284.8,73.0 L285.6,73.8 L286.3,74.0 L287.1,73.6 L287.8,72.6 L288.6,71.1 L289.3,69.1 L290.1,66.8 L290.8,64.2 L291.6,61.4 L292.3,58.6 L293.1,55.7 L293.8,52.8 L294.6,50.1 L295.3,47.7 L296.1,45.5 L296.8,43.8 L297.6,42.4 L298.3,41.6 L299.1,41.3 L299.8,41.6 L300.6,42.5 L301.3,44.2 L302.1,46.6 L302.8,49.9 L303.6,54.1 L304.3,59.2 L305.1,65.0 L305.8,71.4 L306.6,78.0 L307.3,84.6 L308.1,91.1 L308.8,97.3 L309.6,103.3 L310.3,109.0 L311.1,114.4 L311.8,119.3 L312.6,123.8 L313.3,127.8 L314.1,131.0 L314.8,133.5 L315.6,135.1 L316.3,136.1 L317.1,136.3 L317.8,135.8 L318.6,134.6 L319.3,132.8 L320.1,130.3 L320.8,127.3 L321.6,123.8 L322.3,119.7 L323.1,115.3 L323.8,110.7 L324.6,106.1 L325.3,101.7 L326.1,97.6 L326.8,93.9 L327.6,90.8 L328.3,88.1 L329.1,86.0 L329.8,84.6 L330.6,84.0 L331.3,84.2 L332.1,85.3 L332.8,87.2 L333.6,89.7 L334.3,92.7 L335.1,96.3 L335.8,100.3 L336.6,104.9 L337.3,110.0 L338.1,115.8 L338.8,122.2 L339.6,128.8 L340.3,135.4 L341.1,141.6 L341.8,147.3 L342.6,152.6 L343.3,157.5 L344.1,161.9 L344.8,166.0 L345.6,169.6 L346.3,172.8 L347.1,175.6 L347.8,178.0 L348.6,180.0 L349.3,181.6 L350.1,182.8 L350.8,183.8 L351.6,184.5 L352.3,184.9 L353.1,185.1 L353.8,185.1 L354.6,185.0 L355.3,184.7 L356.1,184.3 L356.8,183.8 L357.6,183.2 L358.3,182.4 L359.1,181.6 L359.8,180.6 L360.6,179.6 L361.3,178.5 L362.1,177.3 L362.8,176.0 L363.6,174.7 L364.3,173.3 L365.1,171.9 L365.8,170.5 L366.6,169.1 L367.3,167.7 L368.1,166.3 L368.8,165.0 L369.6,163.7 L370.3,162.4 L371.1,161.2 L371.8,160.0 L372.6,158.8 L373.3,157.7 L374.1,156.6 L374.8,155.6 L375.6,154.6 L376.3,153.6 L377.1,152.6 L377.8,151.7 L378.6,150.8 L379.3,149.9 L380.1,149.1 L380.8,148.2 L381.6,147.4 L382.3,146.7 L383.1,145.9 L383.8,145.2 L384.6,144.5 L385.3,143.8 L386.1,143.2 L386.8,142.6 L387.6,142.0 L388.3,141.4 L389.1,140.8 L389.8,140.3 L390.6,139.8 L391.3,139.3 L392.1,138.8 L392.8,138.4 L393.6,137.9 L394.3,137.5 L395.1,137.1 L395.8,136.7 L396.6,136.3 L397.3,136.0 L398.1,135.6 L398.8,135.3 L399.6,134.9 L400.3,134.6 L401.1,134.3 L401.8,134.0 L402.6,133.7 L403.3,133.4 L404.1,133.1 L404.8,132.9 L405.6,132.6 L406.3,132.4 L407.1,132.2 L407.8,131.9 L408.6,131.7 L409.3,131.5 L410.1,131.3 L410.8,131.2 L411.6,131.0 L412.3,130.8 L413.1,130.7 L413.8,130.5 L414.6,130.4 L415.3,130.3 L416.1,130.2 L416.8,130.0 L417.6,129.9 L418.3,129.8 L419.1,129.8 L419.8,129.7 L420.6,129.6 L421.3,129.5 L422.1,129.5 L422.8,129.4 L423.6,129.4 L424.3,129.3 L425.1,129.3 L425.8,129.2"/><path stroke="#0000ee" stroke-width="1.9" d="M94.5,213.75 H108.8"/><path stroke="#007a00" stroke-width="1.9" d="M94.5,223.75 H108.8"/><path stroke="#f01010" stroke-width="1.9" d="M94.5,233.75 H108.8"/><path stroke="#10bfc4" stroke-width="1.9" d="M94.5,243.75 H108.8"/><path stroke="#8b0a10" stroke-width="1.9" d="M94.5,253.75 H108.8"/></g><g font-family="DejaVu Sans, Liberation Sans, sans-serif" font-size="6.9" fill="#222"><text x="114.5" y="216.45">AE 1</text><text x="114.5" y="226.45">AE 2</text><text x="114.5" y="236.45">Diffusion 1</text><text x="114.5" y="246.45">Diffusion 2</text><text x="114.5" y="256.45">Best conf in the training set</text></g><text font-family="Liberation Serif, serif" font-size="16" x="102.3" y="23.6" fill="#111">(a)</text><rect x="0" y="303.25" width="245.8" height="243.3" fill="url(#jet)"/><g stroke="#fff" stroke-opacity="0.38" stroke-width="1.1"><path d="M7.50,303.25 v243.3"/><path d="M19.70,303.25 v243.3"/><path d="M31.90,303.25 v243.3"/><path d="M44.10,303.25 v243.3"/><path d="M56.30,303.25 v243.3"/><path d="M68.50,303.25 v243.3"/><path d="M80.70,303.25 v243.3"/><path d="M92.90,303.25 v243.3"/><path d="M105.10,303.25 v243.3"/><path d="M117.30,303.25 v243.3"/><path d="M129.50,303.25 v243.3"/><path d="M141.70,303.25 v243.3"/><path d="M153.90,303.25 v243.3"/><path d="M166.10,303.25 v243.3"/><path d="M178.30,303.25 v243.3"/><path d="M190.50,303.25 v243.3"/><path d="M202.70,303.25 v243.3"/><path d="M214.90,303.25 v243.3"/><path d="M227.10,303.25 v243.3"/><path d="M239.30,303.25 v243.3"/></g><g fill="none" stroke="#1a1a1a" stroke-opacity="0.75" stroke-width="0.9"><rect x="62.4" y="365.65" width="121.80" height="118.55" stroke-opacity="0.9"/><ellipse cx="71.5" cy="373.5" rx="2.6" ry="2.6"/><ellipse cx="80.6" cy="371.4" rx="4.5" ry="3.1"/><ellipse cx="95.9" cy="373.5" rx="2.6" ry="2.6"/><ellipse cx="105.0" cy="371.4" rx="4.5" ry="3.1"/><ellipse cx="120.3" cy="373.5" rx="2.6" ry="2.6"/><ellipse cx="129.4" cy="371.4" rx="4.5" ry="3.1"/><ellipse cx="144.7" cy="373.5" rx="2.6" ry="2.6"/><ellipse cx="153.8" cy="371.4" rx="4.5" ry="3.1"/><ellipse cx="169.1" cy="373.5" rx="2.6" ry="2.6"/><ellipse cx="178.2" cy="371.4" rx="4.5" ry="3.1"/><ellipse cx="68.4" cy="383.3" rx="4.5" ry="3.1"/><ellipse cx="83.7" cy="385.4" rx="2.6" ry="2.6"/><ellipse cx="92.8" cy="383.3" rx="4.5" ry="3.1"/><ellipse cx="108.1" cy="385.4" rx="2.6" ry="2.6"/><ellipse cx="117.2" cy="383.3" rx="4.5" ry="3.1"/><ellipse cx="132.5" cy="385.4" rx="2.6" ry="2.6"/><ellipse cx="141.6" cy="383.3" rx="4.5" ry="3.1"/><ellipse cx="156.9" cy="385.4" rx="2.6" ry="2.6"/><ellipse cx="166.0" cy="383.3" rx="4.5" ry="3.1"/><ellipse cx="181.3" cy="385.4" rx="2.6" ry="2.6"/><ellipse cx="71.5" cy="397.2" rx="2.6" ry="2.6"/><ellipse cx="80.6" cy="395.1" rx="4.5" ry="3.1"/><ellipse cx="95.9" cy="397.2" rx="2.6" ry="2.6"/><ellipse cx="105.0" cy="395.1" rx="4.5" ry="3.1"/><ellipse cx="120.3" cy="397.2" rx="2.6" ry="2.6"/><ellipse cx="129.4" cy="395.1" rx="4.5" ry="3.1"/><ellipse cx="144.7" cy="397.2" rx="2.6" ry="2.6"/><ellipse cx="153.8" cy="395.1" rx="4.5" ry="3.1"/><ellipse cx="169.1" cy="397.2" rx="2.6" ry="2.6"/><ellipse cx="178.2" cy="395.1" rx="4.5" ry="3.1"/><ellipse cx="68.4" cy="407.0" rx="4.5" ry="3.1"/><ellipse cx="83.7" cy="409.1" rx="2.6" ry="2.6"/><ellipse cx="92.8" cy="407.0" rx="4.5" ry="3.1"/><ellipse cx="108.1" cy="409.1" rx="2.6" ry="2.6"/><ellipse cx="117.2" cy="407.0" rx="4.5" ry="3.1"/><ellipse cx="132.5" cy="409.1" rx="2.6" ry="2.6"/><ellipse cx="141.6" cy="407.0" rx="4.5" ry="3.1"/><ellipse cx="156.9" cy="409.1" rx="2.6" ry="2.6"/><ellipse cx="166.0" cy="407.0" rx="4.5" ry="3.1"/><ellipse cx="181.3" cy="409.1" rx="2.6" ry="2.6"/><ellipse cx="71.5" cy="420.9" rx="2.6" ry="2.6"/><ellipse cx="80.6" cy="418.8" rx="4.5" ry="3.1"/><ellipse cx="95.9" cy="420.9" rx="2.6" ry="2.6"/><ellipse cx="105.0" cy="418.8" rx="4.5" ry="3.1"/><ellipse cx="120.3" cy="420.9" rx="2.6" ry="2.6"/><ellipse cx="129.4" cy="418.8" rx="4.5" ry="3.1"/><ellipse cx="144.7" cy="420.9" rx="2.6" ry="2.6"/><ellipse cx="153.8" cy="418.8" rx="4.5" ry="3.1"/><ellipse cx="169.1" cy="420.9" rx="2.6" ry="2.6"/><ellipse cx="178.2" cy="418.8" rx="4.5" ry="3.1"/><ellipse cx="68.4" cy="430.7" rx="4.5" ry="3.1"/><ellipse cx="83.7" cy="432.8" rx="2.6" ry="2.6"/><ellipse cx="92.8" cy="430.7" rx="4.5" ry="3.1"/><ellipse cx="108.1" cy="432.8" rx="2.6" ry="2.6"/><ellipse cx="117.2" cy="430.7" rx="4.5" ry="3.1"/><ellipse cx="132.5" cy="432.8" rx="2.6" ry="2.6"/><ellipse cx="141.6" cy="430.7" rx="4.5" ry="3.1"/><ellipse cx="156.9" cy="432.8" rx="2.6" ry="2.6"/><ellipse cx="166.0" cy="430.7" rx="4.5" ry="3.1"/><ellipse cx="181.3" cy="432.8" rx="2.6" ry="2.6"/><ellipse cx="71.5" cy="444.6" rx="2.6" ry="2.6"/><ellipse cx="80.6" cy="442.5" rx="4.5" ry="3.1"/><ellipse cx="95.9" cy="444.6" rx="2.6" ry="2.6"/><ellipse cx="105.0" cy="442.5" rx="4.5" ry="3.1"/><ellipse cx="120.3" cy="444.6" rx="2.6" ry="2.6"/><ellipse cx="129.4" cy="442.5" rx="4.5" ry="3.1"/><ellipse cx="144.7" cy="444.6" rx="2.6" ry="2.6"/><ellipse cx="153.8" cy="442.5" rx="4.5" ry="3.1"/><ellipse cx="169.1" cy="444.6" rx="2.6" ry="2.6"/><ellipse cx="178.2" cy="442.5" rx="4.5" ry="3.1"/><ellipse cx="68.4" cy="454.4" rx="4.5" ry="3.1"/><ellipse cx="83.7" cy="456.5" rx="2.6" ry="2.6"/><ellipse cx="92.8" cy="454.4" rx="4.5" ry="3.1"/><ellipse cx="108.1" cy="456.5" rx="2.6" ry="2.6"/><ellipse cx="117.2" cy="454.4" rx="4.5" ry="3.1"/><ellipse cx="132.5" cy="456.5" rx="2.6" ry="2.6"/><ellipse cx="141.6" cy="454.4" rx="4.5" ry="3.1"/><ellipse cx="156.9" cy="456.5" rx="2.6" ry="2.6"/><ellipse cx="166.0" cy="454.4" rx="4.5" ry="3.1"/><ellipse cx="181.3" cy="456.5" rx="2.6" ry="2.6"/><ellipse cx="71.5" cy="468.3" rx="2.6" ry="2.6"/><ellipse cx="80.6" cy="466.2" rx="4.5" ry="3.1"/><ellipse cx="95.9" cy="468.3" rx="2.6" ry="2.6"/><ellipse cx="105.0" cy="466.2" rx="4.5" ry="3.1"/><ellipse cx="120.3" cy="468.3" rx="2.6" ry="2.6"/><ellipse cx="129.4" cy="466.2" rx="4.5" ry="3.1"/><ellipse cx="144.7" cy="468.3" rx="2.6" ry="2.6"/><ellipse cx="153.8" cy="466.2" rx="4.5" ry="3.1"/><ellipse cx="169.1" cy="468.3" rx="2.6" ry="2.6"/><ellipse cx="178.2" cy="466.2" rx="4.5" ry="3.1"/><ellipse cx="68.4" cy="478.1" rx="4.5" ry="3.1"/><ellipse cx="83.7" cy="480.2" rx="2.6" ry="2.6"/><ellipse cx="92.8" cy="478.1" rx="4.5" ry="3.1"/><ellipse cx="108.1" cy="480.2" rx="2.6" ry="2.6"/><ellipse cx="117.2" cy="478.1" rx="4.5" ry="3.1"/><ellipse cx="132.5" cy="480.2" rx="2.6" ry="2.6"/><ellipse cx="141.6" cy="478.1" rx="4.5" ry="3.1"/><ellipse cx="156.9" cy="480.2" rx="2.6" ry="2.6"/><ellipse cx="166.0" cy="478.1" rx="4.5" ry="3.1"/><ellipse cx="181.3" cy="480.2" rx="2.6" ry="2.6"/></g><text font-family="Liberation Serif, serif" font-size="15.5" x="8.0" y="319.8" fill="#1a0000">(b)</text><rect x="274.1" y="303.25" width="245.9" height="243.3" fill="url(#jet)"/><g stroke="#fff" stroke-opacity="0.38" stroke-width="1.1"><path d="M280.90,303.25 v243.3"/><path d="M293.10,303.25 v243.3"/><path d="M305.30,303.25 v243.3"/><path d="M317.50,303.25 v243.3"/><path d="M329.70,303.25 v243.3"/><path d="M341.90,303.25 v243.3"/><path d="M354.10,303.25 v243.3"/><path d="M366.30,303.25 v243.3"/><path d="M378.50,303.25 v243.3"/><path d="M390.70,303.25 v243.3"/><path d="M402.90,303.25 v243.3"/><path d="M415.10,303.25 v243.3"/><path d="M427.30,303.25 v243.3"/><path d="M439.50,303.25 v243.3"/><path d="M451.70,303.25 v243.3"/><path d="M463.90,303.25 v243.3"/><path d="M476.10,303.25 v243.3"/><path d="M488.30,303.25 v243.3"/><path d="M500.50,303.25 v243.3"/><path d="M512.70,303.25 v243.3"/></g><g fill="none" stroke="#1a1a1a" stroke-opacity="0.75" stroke-width="0.9"><rect x="335.4" y="365.65" width="121.80" height="118.35" stroke-opacity="0.9"/><ellipse cx="343.5" cy="373.5" rx="2.7" ry="2.7"/><ellipse cx="353.1" cy="371.2" rx="4.5" ry="3.0"/><ellipse cx="367.9" cy="373.5" rx="2.7" ry="2.7"/><ellipse cx="377.5" cy="371.2" rx="4.5" ry="3.0"/><ellipse cx="392.3" cy="373.5" rx="2.7" ry="2.7"/><ellipse cx="401.9" cy="371.2" rx="4.5" ry="3.0"/><ellipse cx="416.7" cy="373.5" rx="2.7" ry="2.7"/><ellipse cx="426.3" cy="371.2" rx="4.5" ry="3.0"/><ellipse cx="441.1" cy="373.5" rx="2.7" ry="2.7"/><ellipse cx="450.7" cy="371.2" rx="4.5" ry="3.0"/><ellipse cx="340.9" cy="383.1" rx="4.5" ry="3.0"/><ellipse cx="355.7" cy="385.3" rx="2.7" ry="2.7"/><ellipse cx="365.3" cy="383.1" rx="4.5" ry="3.0"/><ellipse cx="380.1" cy="385.3" rx="2.7" ry="2.7"/><ellipse cx="389.7" cy="383.1" rx="4.5" ry="3.0"/><ellipse cx="404.5" cy="385.3" rx="2.7" ry="2.7"/><ellipse cx="414.1" cy="383.1" rx="4.5" ry="3.0"/><ellipse cx="428.9" cy="385.3" rx="2.7" ry="2.7"/><ellipse cx="438.5" cy="383.1" rx="4.5" ry="3.0"/><ellipse cx="453.3" cy="385.3" rx="2.7" ry="2.7"/><ellipse cx="343.5" cy="397.2" rx="2.7" ry="2.7"/><ellipse cx="353.1" cy="394.9" rx="4.5" ry="3.0"/><ellipse cx="367.9" cy="397.2" rx="2.7" ry="2.7"/><ellipse cx="377.5" cy="394.9" rx="4.5" ry="3.0"/><ellipse cx="392.3" cy="397.2" rx="2.7" ry="2.7"/><ellipse cx="401.9" cy="394.9" rx="4.5" ry="3.0"/><ellipse cx="416.7" cy="397.2" rx="2.7" ry="2.7"/><ellipse cx="426.3" cy="394.9" rx="4.5" ry="3.0"/><ellipse cx="441.1" cy="397.2" rx="2.7" ry="2.7"/><ellipse cx="450.7" cy="394.9" rx="4.5" ry="3.0"/><ellipse cx="340.9" cy="406.8" rx="4.5" ry="3.0"/><ellipse cx="355.7" cy="409.0" rx="2.7" ry="2.7"/><ellipse cx="365.3" cy="406.8" rx="4.5" ry="3.0"/><ellipse cx="380.1" cy="409.0" rx="2.7" ry="2.7"/><ellipse cx="389.7" cy="406.8" rx="4.5" ry="3.0"/><ellipse cx="404.5" cy="409.0" rx="2.7" ry="2.7"/><ellipse cx="414.1" cy="406.8" rx="4.5" ry="3.0"/><ellipse cx="428.9" cy="409.0" rx="2.7" ry="2.7"/><ellipse cx="438.5" cy="406.8" rx="4.5" ry="3.0"/><ellipse cx="453.3" cy="409.0" rx="2.7" ry="2.7"/><ellipse cx="343.5" cy="420.8" rx="2.7" ry="2.7"/><ellipse cx="353.1" cy="418.6" rx="4.5" ry="3.0"/><ellipse cx="367.9" cy="420.8" rx="2.7" ry="2.7"/><ellipse cx="377.5" cy="418.6" rx="4.5" ry="3.0"/><ellipse cx="392.3" cy="420.8" rx="2.7" ry="2.7"/><ellipse cx="401.9" cy="418.6" rx="4.5" ry="3.0"/><ellipse cx="416.7" cy="420.8" rx="2.7" ry="2.7"/><ellipse cx="426.3" cy="418.6" rx="4.5" ry="3.0"/><ellipse cx="441.1" cy="420.8" rx="2.7" ry="2.7"/><ellipse cx="450.7" cy="418.6" rx="4.5" ry="3.0"/><ellipse cx="340.9" cy="430.4" rx="4.5" ry="3.0"/><ellipse cx="355.7" cy="432.7" rx="2.7" ry="2.7"/><ellipse cx="365.3" cy="430.4" rx="4.5" ry="3.0"/><ellipse cx="380.1" cy="432.7" rx="2.7" ry="2.7"/><ellipse cx="389.7" cy="430.4" rx="4.5" ry="3.0"/><ellipse cx="404.5" cy="432.7" rx="2.7" ry="2.7"/><ellipse cx="414.1" cy="430.4" rx="4.5" ry="3.0"/><ellipse cx="428.9" cy="432.7" rx="2.7" ry="2.7"/><ellipse cx="438.5" cy="430.4" rx="4.5" ry="3.0"/><ellipse cx="453.3" cy="432.7" rx="2.7" ry="2.7"/><ellipse cx="343.5" cy="444.5" rx="2.7" ry="2.7"/><ellipse cx="353.1" cy="442.3" rx="4.5" ry="3.0"/><ellipse cx="367.9" cy="444.5" rx="2.7" ry="2.7"/><ellipse cx="377.5" cy="442.3" rx="4.5" ry="3.0"/><ellipse cx="392.3" cy="444.5" rx="2.7" ry="2.7"/><ellipse cx="401.9" cy="442.3" rx="4.5" ry="3.0"/><ellipse cx="416.7" cy="444.5" rx="2.7" ry="2.7"/><ellipse cx="426.3" cy="442.3" rx="4.5" ry="3.0"/><ellipse cx="441.1" cy="444.5" rx="2.7" ry="2.7"/><ellipse cx="450.7" cy="442.3" rx="4.5" ry="3.0"/><ellipse cx="340.9" cy="454.1" rx="4.5" ry="3.0"/><ellipse cx="355.7" cy="456.3" rx="2.7" ry="2.7"/><ellipse cx="365.3" cy="454.1" rx="4.5" ry="3.0"/><ellipse cx="380.1" cy="456.3" rx="2.7" ry="2.7"/><ellipse cx="389.7" cy="454.1" rx="4.5" ry="3.0"/><ellipse cx="404.5" cy="456.3" rx="2.7" ry="2.7"/><ellipse cx="414.1" cy="454.1" rx="4.5" ry="3.0"/><ellipse cx="428.9" cy="456.3" rx="2.7" ry="2.7"/><ellipse cx="438.5" cy="454.1" rx="4.5" ry="3.0"/><ellipse cx="453.3" cy="456.3" rx="2.7" ry="2.7"/><ellipse cx="343.5" cy="468.2" rx="2.7" ry="2.7"/><ellipse cx="353.1" cy="465.9" rx="4.5" ry="3.0"/><ellipse cx="367.9" cy="468.2" rx="2.7" ry="2.7"/><ellipse cx="377.5" cy="465.9" rx="4.5" ry="3.0"/><ellipse cx="392.3" cy="468.2" rx="2.7" ry="2.7"/><ellipse cx="401.9" cy="465.9" rx="4.5" ry="3.0"/><ellipse cx="416.7" cy="468.2" rx="2.7" ry="2.7"/><ellipse cx="426.3" cy="465.9" rx="4.5" ry="3.0"/><ellipse cx="441.1" cy="468.2" rx="2.7" ry="2.7"/><ellipse cx="450.7" cy="465.9" rx="4.5" ry="3.0"/><ellipse cx="340.9" cy="477.8" rx="4.5" ry="3.0"/><ellipse cx="355.7" cy="480.0" rx="2.7" ry="2.7"/><ellipse cx="365.3" cy="477.8" rx="4.5" ry="3.0"/><ellipse cx="380.1" cy="480.0" rx="2.7" ry="2.7"/><ellipse cx="389.7" cy="477.8" rx="4.5" ry="3.0"/><ellipse cx="404.5" cy="480.0" rx="2.7" ry="2.7"/><ellipse cx="414.1" cy="477.8" rx="4.5" ry="3.0"/><ellipse cx="428.9" cy="480.0" rx="2.7" ry="2.7"/><ellipse cx="438.5" cy="477.8" rx="4.5" ry="3.0"/><ellipse cx="453.3" cy="480.0" rx="2.7" ry="2.7"/></g><text font-family="Liberation Serif, serif" font-size="15.5" x="281.7" y="319.8" fill="#1a0000">(c)</text><rect x="0" y="565" width="245.8" height="244.75" fill="url(#jet)"/><g stroke="#fff" stroke-opacity="0.38" stroke-width="1.1"><path d="M7.50,565 v244.75"/><path d="M19.70,565 v244.75"/><path d="M31.90,565 v244.75"/><path d="M44.10,565 v244.75"/><path d="M56.30,565 v244.75"/><path d="M68.50,565 v244.75"/><path d="M80.70,565 v244.75"/><path d="M92.90,565 v244.75"/><path d="M105.10,565 v244.75"/><path d="M117.30,565 v244.75"/><path d="M129.50,565 v244.75"/><path d="M141.70,565 v244.75"/><path d="M153.90,565 v244.75"/><path d="M166.10,565 v244.75"/><path d="M178.30,565 v244.75"/><path d="M190.50,565 v244.75"/><path d="M202.70,565 v244.75"/><path d="M214.90,565 v244.75"/><path d="M227.10,565 v244.75"/><path d="M239.30,565 v244.75"/></g><g fill="none" stroke="#1a1a1a" stroke-opacity="0.75" stroke-width="0.9"><rect x="62.4" y="633.8" width="121.80" height="107.10" stroke-opacity="0.9"/><ellipse cx="71.5" cy="640.4" rx="2.5" ry="2.5"/><ellipse cx="80.9" cy="638.8" rx="1.8" ry="3.9"/><ellipse cx="95.9" cy="640.4" rx="2.5" ry="2.5"/><ellipse cx="105.3" cy="638.8" rx="1.8" ry="3.9"/><ellipse cx="120.3" cy="640.4" rx="2.5" ry="2.5"/><ellipse cx="129.7" cy="638.8" rx="1.8" ry="3.9"/><ellipse cx="144.7" cy="640.4" rx="2.5" ry="2.5"/><ellipse cx="154.1" cy="638.8" rx="1.8" ry="3.9"/><ellipse cx="169.1" cy="640.4" rx="2.5" ry="2.5"/><ellipse cx="178.5" cy="638.8" rx="1.8" ry="3.9"/><ellipse cx="68.7" cy="649.5" rx="1.8" ry="3.9"/><ellipse cx="83.7" cy="651.1" rx="2.5" ry="2.5"/><ellipse cx="93.1" cy="649.5" rx="1.8" ry="3.9"/><ellipse cx="108.1" cy="651.1" rx="2.5" ry="2.5"/><ellipse cx="117.5" cy="649.5" rx="1.8" ry="3.9"/><ellipse cx="132.5" cy="651.1" rx="2.5" ry="2.5"/><ellipse cx="141.9" cy="649.5" rx="1.8" ry="3.9"/><ellipse cx="156.9" cy="651.1" rx="2.5" ry="2.5"/><ellipse cx="166.3" cy="649.5" rx="1.8" ry="3.9"/><ellipse cx="181.3" cy="651.1" rx="2.5" ry="2.5"/><ellipse cx="71.5" cy="661.8" rx="2.5" ry="2.5"/><ellipse cx="80.9" cy="660.2" rx="1.8" ry="3.9"/><ellipse cx="95.9" cy="661.8" rx="2.5" ry="2.5"/><ellipse cx="105.3" cy="660.2" rx="1.8" ry="3.9"/><ellipse cx="120.3" cy="661.8" rx="2.5" ry="2.5"/><ellipse cx="129.7" cy="660.2" rx="1.8" ry="3.9"/><ellipse cx="144.7" cy="661.8" rx="2.5" ry="2.5"/><ellipse cx="154.1" cy="660.2" rx="1.8" ry="3.9"/><ellipse cx="169.1" cy="661.8" rx="2.5" ry="2.5"/><ellipse cx="178.5" cy="660.2" rx="1.8" ry="3.9"/><ellipse cx="68.7" cy="670.9" rx="1.8" ry="3.9"/><ellipse cx="83.7" cy="672.5" rx="2.5" ry="2.5"/><ellipse cx="93.1" cy="670.9" rx="1.8" ry="3.9"/><ellipse cx="108.1" cy="672.5" rx="2.5" ry="2.5"/><ellipse cx="117.5" cy="670.9" rx="1.8" ry="3.9"/><ellipse cx="132.5" cy="672.5" rx="2.5" ry="2.5"/><ellipse cx="141.9" cy="670.9" rx="1.8" ry="3.9"/><ellipse cx="156.9" cy="672.5" rx="2.5" ry="2.5"/><ellipse cx="166.3" cy="670.9" rx="1.8" ry="3.9"/><ellipse cx="181.3" cy="672.5" rx="2.5" ry="2.5"/><ellipse cx="71.5" cy="683.2" rx="2.5" ry="2.5"/><ellipse cx="80.9" cy="681.6" rx="1.8" ry="3.9"/><ellipse cx="95.9" cy="683.2" rx="2.5" ry="2.5"/><ellipse cx="105.3" cy="681.6" rx="1.8" ry="3.9"/><ellipse cx="120.3" cy="683.2" rx="2.5" ry="2.5"/><ellipse cx="129.7" cy="681.6" rx="1.8" ry="3.9"/><ellipse cx="144.7" cy="683.2" rx="2.5" ry="2.5"/><ellipse cx="154.1" cy="681.6" rx="1.8" ry="3.9"/><ellipse cx="169.1" cy="683.2" rx="2.5" ry="2.5"/><ellipse cx="178.5" cy="681.6" rx="1.8" ry="3.9"/><ellipse cx="68.7" cy="692.3" rx="1.8" ry="3.9"/><ellipse cx="83.7" cy="694.0" rx="2.5" ry="2.5"/><ellipse cx="93.1" cy="692.3" rx="1.8" ry="3.9"/><ellipse cx="108.1" cy="694.0" rx="2.5" ry="2.5"/><ellipse cx="117.5" cy="692.3" rx="1.8" ry="3.9"/><ellipse cx="132.5" cy="694.0" rx="2.5" ry="2.5"/><ellipse cx="141.9" cy="692.3" rx="1.8" ry="3.9"/><ellipse cx="156.9" cy="694.0" rx="2.5" ry="2.5"/><ellipse cx="166.3" cy="692.3" rx="1.8" ry="3.9"/><ellipse cx="181.3" cy="694.0" rx="2.5" ry="2.5"/><ellipse cx="71.5" cy="704.7" rx="2.5" ry="2.5"/><ellipse cx="80.9" cy="703.1" rx="1.8" ry="3.9"/><ellipse cx="95.9" cy="704.7" rx="2.5" ry="2.5"/><ellipse cx="105.3" cy="703.1" rx="1.8" ry="3.9"/><ellipse cx="120.3" cy="704.7" rx="2.5" ry="2.5"/><ellipse cx="129.7" cy="703.1" rx="1.8" ry="3.9"/><ellipse cx="144.7" cy="704.7" rx="2.5" ry="2.5"/><ellipse cx="154.1" cy="703.1" rx="1.8" ry="3.9"/><ellipse cx="169.1" cy="704.7" rx="2.5" ry="2.5"/><ellipse cx="178.5" cy="703.1" rx="1.8" ry="3.9"/><ellipse cx="68.7" cy="713.8" rx="1.8" ry="3.9"/><ellipse cx="83.7" cy="715.4" rx="2.5" ry="2.5"/><ellipse cx="93.1" cy="713.8" rx="1.8" ry="3.9"/><ellipse cx="108.1" cy="715.4" rx="2.5" ry="2.5"/><ellipse cx="117.5" cy="713.8" rx="1.8" ry="3.9"/><ellipse cx="132.5" cy="715.4" rx="2.5" ry="2.5"/><ellipse cx="141.9" cy="713.8" rx="1.8" ry="3.9"/><ellipse cx="156.9" cy="715.4" rx="2.5" ry="2.5"/><ellipse cx="166.3" cy="713.8" rx="1.8" ry="3.9"/><ellipse cx="181.3" cy="715.4" rx="2.5" ry="2.5"/><ellipse cx="71.5" cy="726.1" rx="2.5" ry="2.5"/><ellipse cx="80.9" cy="724.5" rx="1.8" ry="3.9"/><ellipse cx="95.9" cy="726.1" rx="2.5" ry="2.5"/><ellipse cx="105.3" cy="724.5" rx="1.8" ry="3.9"/><ellipse cx="120.3" cy="726.1" rx="2.5" ry="2.5"/><ellipse cx="129.7" cy="724.5" rx="1.8" ry="3.9"/><ellipse cx="144.7" cy="726.1" rx="2.5" ry="2.5"/><ellipse cx="154.1" cy="724.5" rx="1.8" ry="3.9"/><ellipse cx="169.1" cy="726.1" rx="2.5" ry="2.5"/><ellipse cx="178.5" cy="724.5" rx="1.8" ry="3.9"/><ellipse cx="68.7" cy="735.2" rx="1.8" ry="3.9"/><ellipse cx="83.7" cy="736.8" rx="2.5" ry="2.5"/><ellipse cx="93.1" cy="735.2" rx="1.8" ry="3.9"/><ellipse cx="108.1" cy="736.8" rx="2.5" ry="2.5"/><ellipse cx="117.5" cy="735.2" rx="1.8" ry="3.9"/><ellipse cx="132.5" cy="736.8" rx="2.5" ry="2.5"/><ellipse cx="141.9" cy="735.2" rx="1.8" ry="3.9"/><ellipse cx="156.9" cy="736.8" rx="2.5" ry="2.5"/><ellipse cx="166.3" cy="735.2" rx="1.8" ry="3.9"/><ellipse cx="181.3" cy="736.8" rx="2.5" ry="2.5"/></g><text font-family="Liberation Serif, serif" font-size="15.5" x="8.0" y="581.5" fill="#1a0000">(d)</text><rect x="274.1" y="565" width="245.9" height="244.75" fill="url(#jet)"/><g stroke="#fff" stroke-opacity="0.38" stroke-width="1.1"><path d="M280.90,565 v244.75"/><path d="M293.10,565 v244.75"/><path d="M305.30,565 v244.75"/><path d="M317.50,565 v244.75"/><path d="M329.70,565 v244.75"/><path d="M341.90,565 v244.75"/><path d="M354.10,565 v244.75"/><path d="M366.30,565 v244.75"/><path d="M378.50,565 v244.75"/><path d="M390.70,565 v244.75"/><path d="M402.90,565 v244.75"/><path d="M415.10,565 v244.75"/><path d="M427.30,565 v244.75"/><path d="M439.50,565 v244.75"/><path d="M451.70,565 v244.75"/><path d="M463.90,565 v244.75"/><path d="M476.10,565 v244.75"/><path d="M488.30,565 v244.75"/><path d="M500.50,565 v244.75"/><path d="M512.70,565 v244.75"/></g><g fill="none" stroke="#1a1a1a" stroke-opacity="0.75" stroke-width="0.9"><rect x="335.65" y="636.8" width="121.55" height="101.00" stroke-opacity="0.9"/><ellipse cx="339.2" cy="640.7" rx="2.0" ry="2.0"/><ellipse cx="353.2" cy="641.5" rx="4.9" ry="3.6"/><ellipse cx="363.7" cy="640.7" rx="2.0" ry="2.0"/><ellipse cx="377.8" cy="641.5" rx="4.9" ry="3.6"/><ellipse cx="388.2" cy="640.7" rx="2.0" ry="2.0"/><ellipse cx="402.2" cy="641.5" rx="4.9" ry="3.6"/><ellipse cx="412.7" cy="640.7" rx="2.0" ry="2.0"/><ellipse cx="426.8" cy="641.5" rx="4.9" ry="3.6"/><ellipse cx="437.2" cy="640.7" rx="2.0" ry="2.0"/><ellipse cx="451.2" cy="641.5" rx="4.9" ry="3.6"/><ellipse cx="341.0" cy="651.6" rx="4.9" ry="3.6"/><ellipse cx="351.4" cy="650.8" rx="2.0" ry="2.0"/><ellipse cx="365.5" cy="651.6" rx="4.9" ry="3.6"/><ellipse cx="375.9" cy="650.8" rx="2.0" ry="2.0"/><ellipse cx="390.0" cy="651.6" rx="4.9" ry="3.6"/><ellipse cx="400.4" cy="650.8" rx="2.0" ry="2.0"/><ellipse cx="414.5" cy="651.6" rx="4.9" ry="3.6"/><ellipse cx="424.9" cy="650.8" rx="2.0" ry="2.0"/><ellipse cx="439.0" cy="651.6" rx="4.9" ry="3.6"/><ellipse cx="449.4" cy="650.8" rx="2.0" ry="2.0"/><ellipse cx="339.2" cy="660.9" rx="2.0" ry="2.0"/><ellipse cx="353.2" cy="661.7" rx="4.9" ry="3.6"/><ellipse cx="363.7" cy="660.9" rx="2.0" ry="2.0"/><ellipse cx="377.8" cy="661.7" rx="4.9" ry="3.6"/><ellipse cx="388.2" cy="660.9" rx="2.0" ry="2.0"/><ellipse cx="402.2" cy="661.7" rx="4.9" ry="3.6"/><ellipse cx="412.7" cy="660.9" rx="2.0" ry="2.0"/><ellipse cx="426.8" cy="661.7" rx="4.9" ry="3.6"/><ellipse cx="437.2" cy="660.9" rx="2.0" ry="2.0"/><ellipse cx="451.2" cy="661.7" rx="4.9" ry="3.6"/><ellipse cx="341.0" cy="671.8" rx="4.9" ry="3.6"/><ellipse cx="351.4" cy="671.0" rx="2.0" ry="2.0"/><ellipse cx="365.5" cy="671.8" rx="4.9" ry="3.6"/><ellipse cx="375.9" cy="671.0" rx="2.0" ry="2.0"/><ellipse cx="390.0" cy="671.8" rx="4.9" ry="3.6"/><ellipse cx="400.4" cy="671.0" rx="2.0" ry="2.0"/><ellipse cx="414.5" cy="671.8" rx="4.9" ry="3.6"/><ellipse cx="424.9" cy="671.0" rx="2.0" ry="2.0"/><ellipse cx="439.0" cy="671.8" rx="4.9" ry="3.6"/><ellipse cx="449.4" cy="671.0" rx="2.0" ry="2.0"/><ellipse cx="339.2" cy="681.1" rx="2.0" ry="2.0"/><ellipse cx="353.2" cy="681.9" rx="4.9" ry="3.6"/><ellipse cx="363.7" cy="681.1" rx="2.0" ry="2.0"/><ellipse cx="377.8" cy="681.9" rx="4.9" ry="3.6"/><ellipse cx="388.2" cy="681.1" rx="2.0" ry="2.0"/><ellipse cx="402.2" cy="681.9" rx="4.9" ry="3.6"/><ellipse cx="412.7" cy="681.1" rx="2.0" ry="2.0"/><ellipse cx="426.8" cy="681.9" rx="4.9" ry="3.6"/><ellipse cx="437.2" cy="681.1" rx="2.0" ry="2.0"/><ellipse cx="451.2" cy="681.9" rx="4.9" ry="3.6"/><ellipse cx="341.0" cy="692.0" rx="4.9" ry="3.6"/><ellipse cx="351.4" cy="691.2" rx="2.0" ry="2.0"/><ellipse cx="365.5" cy="692.0" rx="4.9" ry="3.6"/><ellipse cx="375.9" cy="691.2" rx="2.0" ry="2.0"/><ellipse cx="390.0" cy="692.0" rx="4.9" ry="3.6"/><ellipse cx="400.4" cy="691.2" rx="2.0" ry="2.0"/><ellipse cx="414.5" cy="692.0" rx="4.9" ry="3.6"/><ellipse cx="424.9" cy="691.2" rx="2.0" ry="2.0"/><ellipse cx="439.0" cy="692.0" rx="4.9" ry="3.6"/><ellipse cx="449.4" cy="691.2" rx="2.0" ry="2.0"/><ellipse cx="339.2" cy="701.3" rx="2.0" ry="2.0"/><ellipse cx="353.2" cy="702.1" rx="4.9" ry="3.6"/><ellipse cx="363.7" cy="701.3" rx="2.0" ry="2.0"/><ellipse cx="377.8" cy="702.1" rx="4.9" ry="3.6"/><ellipse cx="388.2" cy="701.3" rx="2.0" ry="2.0"/><ellipse cx="402.2" cy="702.1" rx="4.9" ry="3.6"/><ellipse cx="412.7" cy="701.3" rx="2.0" ry="2.0"/><ellipse cx="426.8" cy="702.1" rx="4.9" ry="3.6"/><ellipse cx="437.2" cy="701.3" rx="2.0" ry="2.0"/><ellipse cx="451.2" cy="702.1" rx="4.9" ry="3.6"/><ellipse cx="341.0" cy="712.2" rx="4.9" ry="3.6"/><ellipse cx="351.4" cy="711.4" rx="2.0" ry="2.0"/><ellipse cx="365.5" cy="712.2" rx="4.9" ry="3.6"/><ellipse cx="375.9" cy="711.4" rx="2.0" ry="2.0"/><ellipse cx="390.0" cy="712.2" rx="4.9" ry="3.6"/><ellipse cx="400.4" cy="711.4" rx="2.0" ry="2.0"/><ellipse cx="414.5" cy="712.2" rx="4.9" ry="3.6"/><ellipse cx="424.9" cy="711.4" rx="2.0" ry="2.0"/><ellipse cx="439.0" cy="712.2" rx="4.9" ry="3.6"/><ellipse cx="449.4" cy="711.4" rx="2.0" ry="2.0"/><ellipse cx="339.2" cy="721.5" rx="2.0" ry="2.0"/><ellipse cx="353.2" cy="722.3" rx="4.9" ry="3.6"/><ellipse cx="363.7" cy="721.5" rx="2.0" ry="2.0"/><ellipse cx="377.8" cy="722.3" rx="4.9" ry="3.6"/><ellipse cx="388.2" cy="721.5" rx="2.0" ry="2.0"/><ellipse cx="402.2" cy="722.3" rx="4.9" ry="3.6"/><ellipse cx="412.7" cy="721.5" rx="2.0" ry="2.0"/><ellipse cx="426.8" cy="722.3" rx="4.9" ry="3.6"/><ellipse cx="437.2" cy="721.5" rx="2.0" ry="2.0"/><ellipse cx="451.2" cy="722.3" rx="4.9" ry="3.6"/><ellipse cx="341.0" cy="732.4" rx="4.9" ry="3.6"/><ellipse cx="351.4" cy="731.6" rx="2.0" ry="2.0"/><ellipse cx="365.5" cy="732.4" rx="4.9" ry="3.6"/><ellipse cx="375.9" cy="731.6" rx="2.0" ry="2.0"/><ellipse cx="390.0" cy="732.4" rx="4.9" ry="3.6"/><ellipse cx="400.4" cy="731.6" rx="2.0" ry="2.0"/><ellipse cx="414.5" cy="732.4" rx="4.9" ry="3.6"/><ellipse cx="424.9" cy="731.6" rx="2.0" ry="2.0"/><ellipse cx="439.0" cy="732.4" rx="4.9" ry="3.6"/><ellipse cx="449.4" cy="731.6" rx="2.0" ry="2.0"/></g><text font-family="Liberation Serif, serif" font-size="15.5" x="281.7" y="581.5" fill="#1a0000">(e)</text><rect x="11" y="815.7" width="230.3" height="12" fill="url(#jet)" stroke="#000" stroke-opacity="0.35" stroke-width="0.6"/><g stroke="#000" stroke-opacity="0.35" stroke-width="0.6"><path d="M34.0,815.7 v2 M34.0,827.7 v-2"/><path d="M57.1,815.7 v2 M57.1,827.7 v-2"/><path d="M80.1,815.7 v2 M80.1,827.7 v-2"/><path d="M103.1,815.7 v2 M103.1,827.7 v-2"/><path d="M126.2,815.7 v2 M126.2,827.7 v-2"/><path d="M149.2,815.7 v2 M149.2,827.7 v-2"/><path d="M172.2,815.7 v2 M172.2,827.7 v-2"/><path d="M195.2,815.7 v2 M195.2,827.7 v-2"/><path d="M218.3,815.7 v2 M218.3,827.7 v-2"/></g><rect x="282.5" y="815.7" width="230.0" height="12" fill="url(#jet)" stroke="#000" stroke-opacity="0.35" stroke-width="0.6"/><g stroke="#000" stroke-opacity="0.35" stroke-width="0.6"><path d="M305.5,815.7 v2 M305.5,827.7 v-2"/><path d="M328.5,815.7 v2 M328.5,827.7 v-2"/><path d="M351.5,815.7 v2 M351.5,827.7 v-2"/><path d="M374.5,815.7 v2 M374.5,827.7 v-2"/><path d="M397.5,815.7 v2 M397.5,827.7 v-2"/><path d="M420.5,815.7 v2 M420.5,827.7 v-2"/><path d="M443.5,815.7 v2 M443.5,827.7 v-2"/><path d="M466.5,815.7 v2 M466.5,827.7 v-2"/><path d="M489.5,815.7 v2 M489.5,827.7 v-2"/></g><g font-family="Liberation Serif, serif" font-size="14" fill="#111"><text x="2.3" y="843.8">313K</text><text x="244" y="843.8" text-anchor="end">273K</text><text x="275" y="843.8">313K</text><text x="518" y="843.8" text-anchor="end">273K</text></g></svg>
</body></html>
